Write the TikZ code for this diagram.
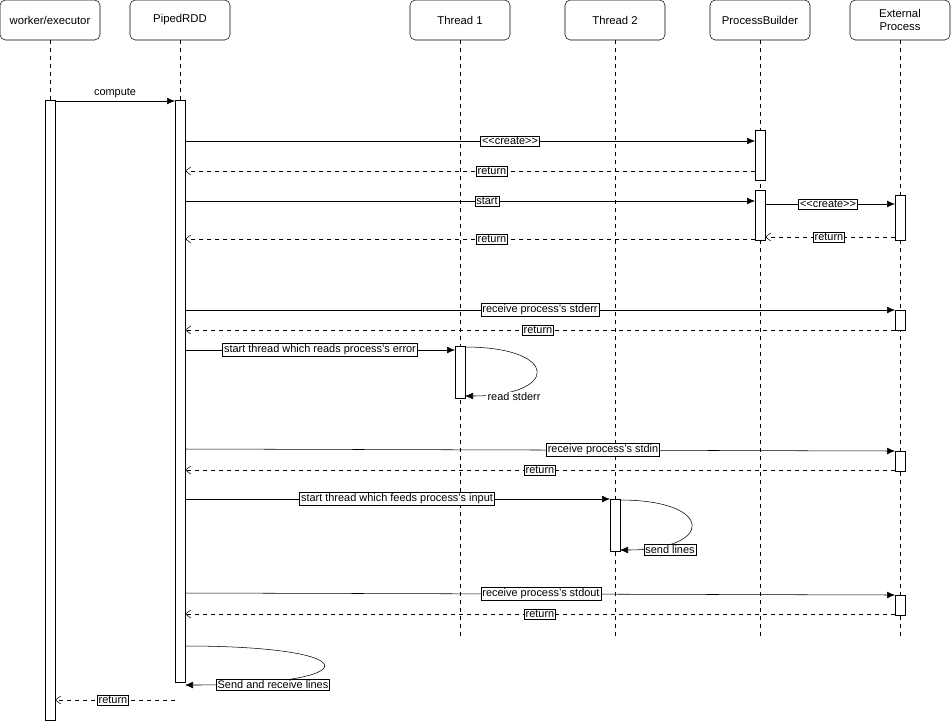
\documentclass[tikz,border=0pt]{standalone}
\usepackage{fontspec}
\setmainfont{Liberation Sans}
\usetikzlibrary{arrows.meta}
\begin{document}
\begin{tikzpicture}[x=0.75pt,y=-0.75pt,
  head/.style={draw,rounded corners=4pt,minimum width=75pt,minimum height=30pt,inner sep=1pt,font=\fontsize{8.5}{10}\selectfont,align=center},
  life/.style={draw,dash pattern=on 3pt off 3pt},
  act/.style={draw,fill=white},
  msg/.style={-{Latex[length=6pt,width=5pt]}},
  ret/.style={dashed,-{Straight Barb[length=4pt,width=6pt]}},
  lab/.style={draw,fill=white,inner sep=1pt,font=\fontsize{8.2}{9}\selectfont},
  plain/.style={inner sep=1pt,font=\fontsize{8.2}{9}\selectfont,fill=white}]
\useasboundingbox (0,0) rectangle (952,722);
% heads
\node[head] (w) at (50,20) {worker/executor};
\node[head] (p) at (180,20) {PipedRDD};
\node[head] (t1) at (460,20) {Thread 1};
\node[head] (t2) at (615,20) {Thread 2};
\node[head] (pb) at (760,20) {ProcessBuilder};
\node[head] (ex) at (900,20) {External\\Process};
% lifelines
\coordinate (wE) at (50,720); \coordinate (pE) at (180,682);
\coordinate (t1E) at (460,638); \coordinate (t2E) at (615,638);
\coordinate (pbE) at (760,638); \coordinate (exE) at (900,638);
\foreach \a in {w,p,t1,t2,pb,ex} \draw[life] (\a.south) -- (\a E);
% activations
\draw[act] (45,100) rectangle (55,720);
\draw[act] (175,100) rectangle (185,682);
\draw[act] (755,130) rectangle (765,180);
\draw[act] (755,190) rectangle (765,240);
\draw[act] (895,195) rectangle (905,240);
\draw[act] (895,310) rectangle (905,330);
\draw[act] (895,451) rectangle (905,471);
\draw[act] (895,595) rectangle (905,615);
\draw[act] (455,346) rectangle (465,398);
\draw[act] (610,499) rectangle (620,551);
% messages
\draw[msg] (55,101) -- node[plain,above=1pt] {compute} (175,101);
\draw[msg] (185,141) -- (755,141); \node[lab] at (510,141) {<{}<create>{}>};
\draw[ret] (755,171) -- (185,171); \node[lab] at (492,171) {return};
\draw[msg] (185,201) -- (755,201); \node[lab] at (487,201) {start};
\draw[msg] (765,204) -- (895,204); \node[lab] at (828,204) {<{}<create>{}>};
\draw[ret] (895,237) -- (765,237); \node[lab] at (829,237) {return};
\draw[ret] (755,239) -- (185,239); \node[lab] at (492,239) {return};
\draw[msg] (185,310) -- (895,310); \node[lab] at (540,310) {receive process's stderr};
\draw[ret] (895,330) -- (185,330); \node[lab] at (538,330) {return};
\draw[msg] (185,350) -- (455,350); \node[lab] at (320,350) {start thread which reads process's error};
\draw[msg] (465,347) .. controls (560,347) and (560,396) .. (465,396); \node[plain,anchor=west] at (486,397) {read stderr};
\draw[msg] (185,449) -- (895,451); \node[lab] at (603,450) {receive process's stdin};
\draw[ret] (895,470) -- (185,470); \node[lab] at (540,470) {return};
\draw[msg] (185,499) -- (610,499); \node[lab] at (397,499) {start thread which feeds process's input};
\draw[msg] (620,500) .. controls (715,500) and (715,550) .. (620,550); \node[lab] at (670,550) {send lines};
\draw[msg] (185,593) -- (895,595); \node[lab] at (541,594) {receive process's stdout};
\draw[ret] (895,614) -- (185,614); \node[lab] at (540,614) {return};
\draw[msg] (185,646) .. controls (370,646) and (370,685) .. (185,685); \node[lab] at (273,685) {Send and receive lines};
\draw[ret] (175,700) -- (55,700); \node[lab] at (113,700) {return};
\end{tikzpicture}
\end{document}
